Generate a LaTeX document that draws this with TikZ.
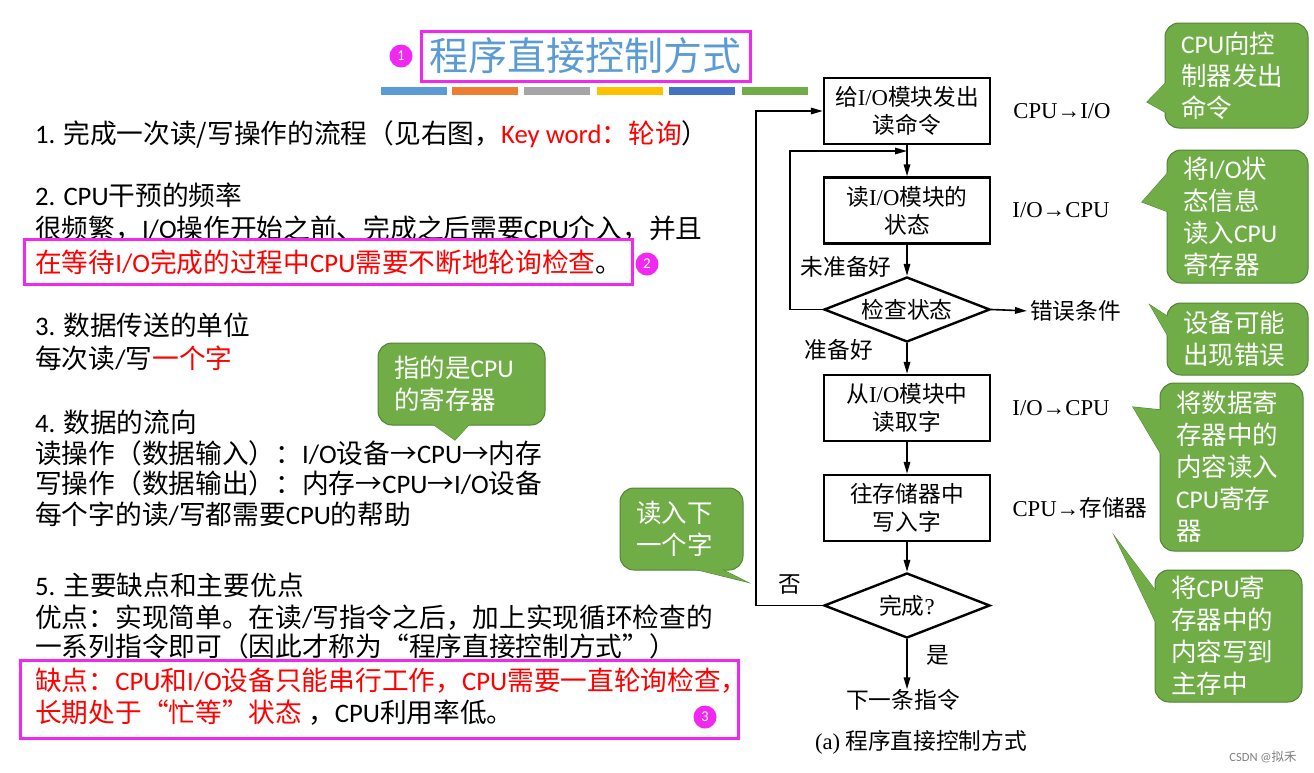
\documentclass[tikz,border=0pt]{standalone}
\usepackage{fontspec}
\setmainfont{Noto Sans CJK SC}
\newfontfamily\ltnfont{Carlito}
\newfontfamily\srffont{Liberation Serif}
\newcommand\ltn[1]{{\ltnfont #1}}
\newcommand\srf[1]{{\srffont #1}}
\usetikzlibrary{arrows.meta,shapes.geometric}

\definecolor{titleblue}{RGB}{91,155,213}
\definecolor{hlmag}{RGB}{240,40,240}
\definecolor{bubgreen}{RGB}{112,173,71}
\definecolor{bubedge}{RGB}{84,130,53}
\definecolor{barA}{RGB}{91,155,213}
\definecolor{barB}{RGB}{237,125,49}
\definecolor{barC}{RGB}{165,165,165}
\definecolor{barD}{RGB}{255,192,0}
\definecolor{barE}{RGB}{68,114,196}
\definecolor{barF}{RGB}{112,173,71}

\tikzset{
  txt/.style={anchor=west, inner sep=0pt, font=\fontsize{26.7}{32}\selectfont, text height=23.5pt, text depth=3.2pt},
  flowbox/.style={draw, line width=2.4pt, minimum width=166pt, minimum height=66pt, align=center, inner sep=0pt, font=\fontsize{22.7}{28}\selectfont},
  decision/.style={diamond, draw, line width=2.4pt, minimum width=166pt, minimum height=65pt, aspect=2.55, inner sep=0pt, font=\fontsize{22.7}{28}\selectfont},
  arr/.style={-{Triangle[length=12pt,width=6.5pt]}, line width=1.6pt},
  lbl/.style={inner sep=0pt, font=\fontsize{22.7}{28}\selectfont},
  bubble/.style={fill=bubgreen, draw=bubedge, line width=1pt, rounded corners=14pt, text=white, align=left, inner xsep=16pt, font=\fontsize{25.5}{32}\selectfont},
  badge/.style={circle, fill=hlmag, text=white, inner sep=0pt, minimum size=23pt, font=\ltnfont\fontsize{15}{15}\selectfont},
  hlbox/.style={draw=hlmag, line width=3pt},
}

\begin{document}
\begin{tikzpicture}[x=1pt, y=-1pt]
  \fill[white] (0,0) rectangle (1314,772);
  \useasboundingbox (0,0) rectangle (1314,772);

  % title
  \node[hlbox, minimum width=329pt, minimum height=50pt, inner sep=0pt, text=titleblue, font=\fontsize{39}{39}\selectfont] (title) at (585.5,56) {程序直接控制方式};
  \node[badge] (m1) at (401,56) {1};
  \foreach \x/\c in {381/barA, 452/barB, 524/barC, 597/barD, 669/barE, 742/barF}
    \fill[\c] (\x,87) rectangle ++(66,8);

  % left column
  \node[txt] (l1) at (35,133) {\ltn{1.} 完成一次读/写操作的流程（见右图，{\color{red}\ltn{Key word}：轮询}）};
  \node[txt] (l2) at (35,195) {\ltn{2. CPU}干预的频率};
  \node[txt] (l3) at (35,228) {很频繁，\ltn{I/O}操作开始之前、完成之后需要\ltn{CPU}介入，并且};
  \node[txt] (l4) at (35,262) {{\color{red}在等待\ltn{I/O}完成的过程中\ltn{CPU}需要不断地轮询检查}。};
  \node[txt] (l5) at (35,325) {\ltn{3.} 数据传送的单位};
  \node[txt] (l6) at (35,358) {每次读\ltn{/}写{\color{red}一个字}};
  \node[txt] (l7) at (35,422) {\ltn{4.} 数据的流向};
  \node[txt] (l8) at (35,453) {读操作（数据输入）：\ltn{I/O}设备→\ltn{CPU}→内存};
  \node[txt] (l9) at (35,483) {写操作（数据输出）：内存→\ltn{CPU}→\ltn{I/O}设备};
  \node[txt] (l10) at (35,514) {每个字的读\ltn{/}写都需要\ltn{CPU}的帮助};
  \node[txt] (l11) at (35,585) {\ltn{5.} 主要缺点和主要优点};
  \node[txt] (l12) at (35,617) {优点：实现简单。在读\ltn{/}写指令之后，加上实现循环检查的};
  \node[txt] (l13) at (35,646) {一系列指令即可（因此才称为“程序直接控制方式”）};
  \node[txt] (l14) at (35,680) {{\color{red}缺点：\ltn{CPU}和\ltn{I/O}设备只能串行工作，\ltn{CPU}需要一直轮询检查，}};
  \node[txt] (l15) at (35,712) {{\color{red}长期处于“忙等”状态}\ltn{ }，\ltn{CPU}利用率低。};
  \draw[hlbox] (24,239) rectangle (632,284);
  \node[badge] (m2) at (647,264) {2};
  \draw[hlbox] (20,660) rectangle (738,738);
  \node[badge] (m3) at (705,717) {3};

  % flowchart
  \node[flowbox] (rd) at (907,111) {给\srf{I/O}模块发出\\读命令};
  \node[flowbox] (st) at (907,210.5) {读\srf{I/O}模块的\\状态};
  \node[decision] (chk) at (907,309.5) {检查状态};
  \node[flowbox] (get) at (907,408) {从\srf{I/O}模块中\\读取字};
  \node[flowbox] (put) at (907,508) {往存储器中\\写入字};
  \node[decision] (done) at (907,605.5) {完成\srf{?}};
  \node[lbl] (next) at (903,700) {下一条指令};
  \node[lbl, anchor=west] (err) at (1030,311) {错误条件};
  \node[lbl] (cap) at (921,742) {\srf{(a)} 程序直接控制方式};
  \coordinate (join) at (907,151);

  \draw[arr] (rd) -- (st);
  \draw[arr] (st) -- (chk);
  \draw[arr] (chk) -- (get);
  \draw[arr] (get) -- (put);
  \draw[arr] (put) -- (done);
  \draw[arr] (done) -- (done |- next.north);
  \draw[arr, shorten >=3pt] (chk.east) -- (err.west);
  \draw[arr] (chk.west) -- ++(-33,0) |- (join);
  \draw[arr] (done.west) -- ++(-67,0) |- (rd.west);

  \node[lbl] (nrdy) at (846,267) {未准备好};
  \node[lbl] (rdy) at (839,350) {准备好};
  \node[lbl] (no) at (790,585) {否};
  \node[lbl] (yes) at (938,655) {是};

  \node[lbl] (a1) at (1062,111) {\srf{CPU→I/O}};
  \node[lbl] (a2) at (1061,210) {\srf{I/O→CPU}};
  \node[lbl] (a3) at (1061,408) {\srf{I/O→CPU}};
  \node[lbl] (a4) at (1080,508) {\srf{CPU→}存储器};

  % callouts
  \foreach \ax/\ay/\tx/\ty/\bx/\by in {1166.5/82/1147/102/1166.5/113, 1168.5/172/1142/202/1168.5/212,
      1168.5/317/1150/305/1168.5/337, 1161.5/410/1133/407/1161.5/455, 1156.5/592/1115/537/1156.5/624,
      692/568.5/747/582/720/568.5, 432/423.5/455/440/470/423.5}
    \draw[bubedge, line width=1pt] (\ax,\ay) -- (\tx,\ty) -- (\bx,\by);
  \node[bubble, minimum width=143pt, minimum height=105pt, text width=111pt] (b1) at (1236.5,75.5) {\ltn{CPU}向控\\制器发出\\命令};
  \node[bubble, minimum width=141pt, minimum height=133pt, text width=109pt] (b2) at (1237.5,216.5) {将\ltn{I/O}状\\态信息\\读入\ltn{CPU}\\寄存器};
  \node[bubble, minimum width=141pt, minimum height=72pt, text width=109pt] (b3) at (1237.5,339) {设备可能\\出现错误};
  \node[bubble, minimum width=143pt, minimum height=168pt, text width=111pt] (b4) at (1231.5,467) {将数据寄\\存器中的\\内容读入\\\ltn{CPU}寄存\\器};
  \node[bubble, minimum width=147pt, minimum height=132pt, text width=115pt] (b5) at (1228.5,636) {将\ltn{CPU}寄\\存器中的\\内容写到\\主存中};
  \node[bubble, minimum width=123pt, minimum height=82pt, text width=91pt] (b6) at (681.5,529) {读入下\\一个字};
  \node[bubble, minimum width=167pt, minimum height=82pt, text width=135pt] (b7) at (461.5,384) {指的是\ltn{CPU}\\的寄存器};
  \foreach \ax/\ay/\tx/\ty/\bx/\by in {1166.5/82/1147/102/1166.5/113, 1168.5/172/1142/202/1168.5/212,
      1168.5/317/1150/305/1168.5/337, 1161.5/410/1133/407/1161.5/455, 1156.5/592/1115/537/1156.5/624,
      692/568.5/747/582/720/568.5, 432/423.5/455/440/470/423.5}
    \fill[bubgreen] (\ax,\ay) -- (\tx,\ty) -- (\bx,\by) -- cycle;

  \node[text=gray, font=\fontsize{12.5}{14}\selectfont, inner sep=0pt] (wm) at (1263,757) {\ltn{CSDN @}拟禾};
\end{tikzpicture}
\end{document}
